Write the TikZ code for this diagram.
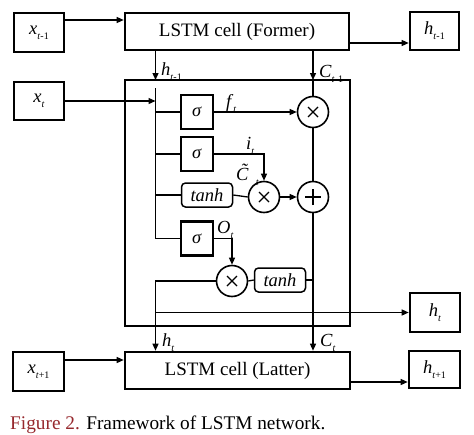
\documentclass[tikz,border=0pt]{standalone}
\usepackage{fontspec}
\setmainfont{Liberation Serif}
\usetikzlibrary{arrows.meta,calc}
\definecolor{capred}{RGB}{150,40,45}
\newcommand{\sbs}[1]{\raisebox{-5pt}{\fontsize{10}{10}\selectfont #1}}
\newcommand{\lbl}{\fontsize{18.5}{20}\selectfont}
\begin{document}
\begin{tikzpicture}[x=1pt,y=-1pt,
  bx/.style={draw, line width=2.6pt, inner sep=0pt, font=\lbl},
  gate/.style={draw, line width=2.2pt, inner sep=0pt, minimum width=32pt, minimum height=34pt, font=\lbl},
  tbox/.style={draw, line width=1.5pt, rounded corners=4pt, inner sep=0pt, minimum width=51pt, minimum height=24pt, font=\lbl},
  op/.style={circle, draw, line width=1.6pt, minimum size=31pt, inner sep=0pt},
  mul/.style={op, path picture={
      \draw[line width=1.3pt] ([shift={(-5pt,-5pt)}]path picture bounding box.center) -- ([shift={(5pt,5pt)}]path picture bounding box.center);
      \draw[line width=1.3pt] ([shift={(-5pt,5pt)}]path picture bounding box.center) -- ([shift={(5pt,-5pt)}]path picture bounding box.center);}},
  add/.style={op, path picture={
      \draw[line width=1.6pt] ([shift={(-8pt,0pt)}]path picture bounding box.center) -- ([shift={(8pt,0pt)}]path picture bounding box.center);
      \draw[line width=1.6pt] ([shift={(0pt,-8pt)}]path picture bounding box.center) -- ([shift={(0pt,8pt)}]path picture bounding box.center);}},
  ln/.style={line width=1.3pt},
  arr/.style={line width=1.3pt, -{Triangle[length=7pt,width=6pt]}},
  lab/.style={font=\lbl, inner sep=0pt, anchor=base west}
]
\useasboundingbox (0,0) rectangle (474,434);

% outer boxes
\node[bx, minimum width=50pt, minimum height=39pt] (xtm1) at (39,32.5) {\textit{x}\sbs{\textit{t}-1}};
\node[bx, minimum width=224pt, minimum height=37pt, font=\fontsize{19}{20}\selectfont] (former) at (237,31.5) {LSTM cell (Former)};
\node[bx, minimum width=49pt, minimum height=38pt] (htm1) at (434.5,31) {\textit{h}\sbs{\textit{t}-1}};
\node[bx, minimum width=50pt, minimum height=38pt] (xt) at (39,101) {\textit{x}\sbs{\textit{t}}};
\coordinate (innerNW) at (125,80);
\coordinate (innerSE) at (350,326);
\draw[line width=2.6pt] (innerNW) rectangle (innerSE);
\node[bx, minimum width=50pt, minimum height=39pt] (ht) at (435,312.5) {\textit{h}\sbs{\textit{t}}};
\node[bx, minimum width=225pt, minimum height=37pt, font=\fontsize{19}{20}\selectfont] (latter) at (237.5,370.5) {LSTM cell (Latter)};
\node[bx, minimum width=51pt, minimum height=39pt] (xtp1) at (38.5,371.5) {\textit{x}\sbs{\textit{t}+1}};
\node[bx, minimum width=51pt, minimum height=37pt] (htp1) at (434.5,369.5) {\textit{h}\sbs{\textit{t}+1}};

% gates
\node[gate] (s1) at (197,112) {\textit{σ}};
\node[gate] (s2) at (197,154) {\textit{σ}};
\node[tbox] (t1) at (207,195) {\textit{tanh}};
\node[gate] (s3) at (197,238.5) {\textit{σ}};
\node[mul] (m1) at (313,112) {};
\node[mul] (m2) at (264,197) {};
\node[add] (a1) at (313,197) {};
\node[mul] (m3) at (232,281) {};
\node[tbox] (t2) at (280,280) {\textit{tanh}};

% bus
\coordinate (bt) at (155.5,88);
\coordinate (bb) at (155.5,238.5);
\draw[ln] (bt) -- (bb);
\draw[arr] (xt.east) -- (xt.east -| bt);
\draw[ln] (s1.west -| bt) -- (s1.west);
\draw[ln] (s2.west -| bt) -- (s2.west);
\draw[ln] (t1.west -| bt) -- (t1.west);
\draw[ln] (s3.west -| bt) -- (s3.west);

% top inputs
\draw[arr] ([yshift=12.5pt]xtm1.east) -- ([yshift=12.5pt]xtm1.east -| former.west);
\draw[arr] ([yshift=-11.5pt]former.east) -- ([yshift=-11.5pt]former.east -| htm1.west);
\draw[arr] (former.south -| bt) -- (innerNW -| bt);
\draw[arr] (former.south -| m1) -- (innerNW -| m1);
\draw[ln] (innerNW -| m1) -- (m1.north);

% cell state
\draw[ln] (m1.south) -- (a1.north);
\draw[arr] (a1.south) -- (latter.north -| a1);

% gates connections
\draw[arr] (s1.east) -- (m1.west);
\draw[arr] (s2.east) -- (s2.east -| m2) -- (m2.north);
\draw[ln] (t1.east) -- (m2.west);
\draw[arr] (m2.east) -- (a1.west);
\draw[arr] (s3.east) -- (s3.east -| m3) -- (m3.north);
\draw[ln] (m3.east) -- (t2.west);
\draw[ln] (t2.east) -- (t2.east -| a1);
\draw[arr] (m3.west) -- (m3.west -| bt) -- (latter.north -| bt);
\draw[arr] (ht.west -| bt) -- (ht.west);

% bottom
\draw[arr] ([yshift=11.5pt]xtp1.east) -- ([yshift=11.5pt]xtp1.east -| latter.west);
\draw[arr] ([yshift=-11.5pt]latter.east) -- ([yshift=-11.5pt]latter.east -| htp1.west);

% labels
\node[lab] (lh1) at (161,75) {\textit{h}\sbs{\textit{t}-1}};
\node[lab] (lc1) at (319,77) {\textit{C}\sbs{\textit{t}-1}};
\node[lab] (lf) at (226,107) {\textit{f}\sbs{\textit{t}}};
\node[lab] (li) at (246,149) {\textit{i}\sbs{\textit{t}}};
\node[lab] (lct) at (236,180) {\textit{C̃}\sbs{\textit{t}}};
\node[lab] (lo) at (217,233) {\textit{O}\sbs{\textit{t}}};
\node[lab] (lh) at (162,346) {\textit{h}\sbs{\textit{t}}};
\node[lab] (lc) at (320,346) {\textit{C}\sbs{\textit{t}}};

% caption
\node[anchor=base west, inner sep=0pt, font=\fontsize{19.3}{21}\selectfont] (cap) at (10,429) {\textcolor{capred}{Figure 2.} Framework of LSTM network.};
\end{tikzpicture}
\end{document}
